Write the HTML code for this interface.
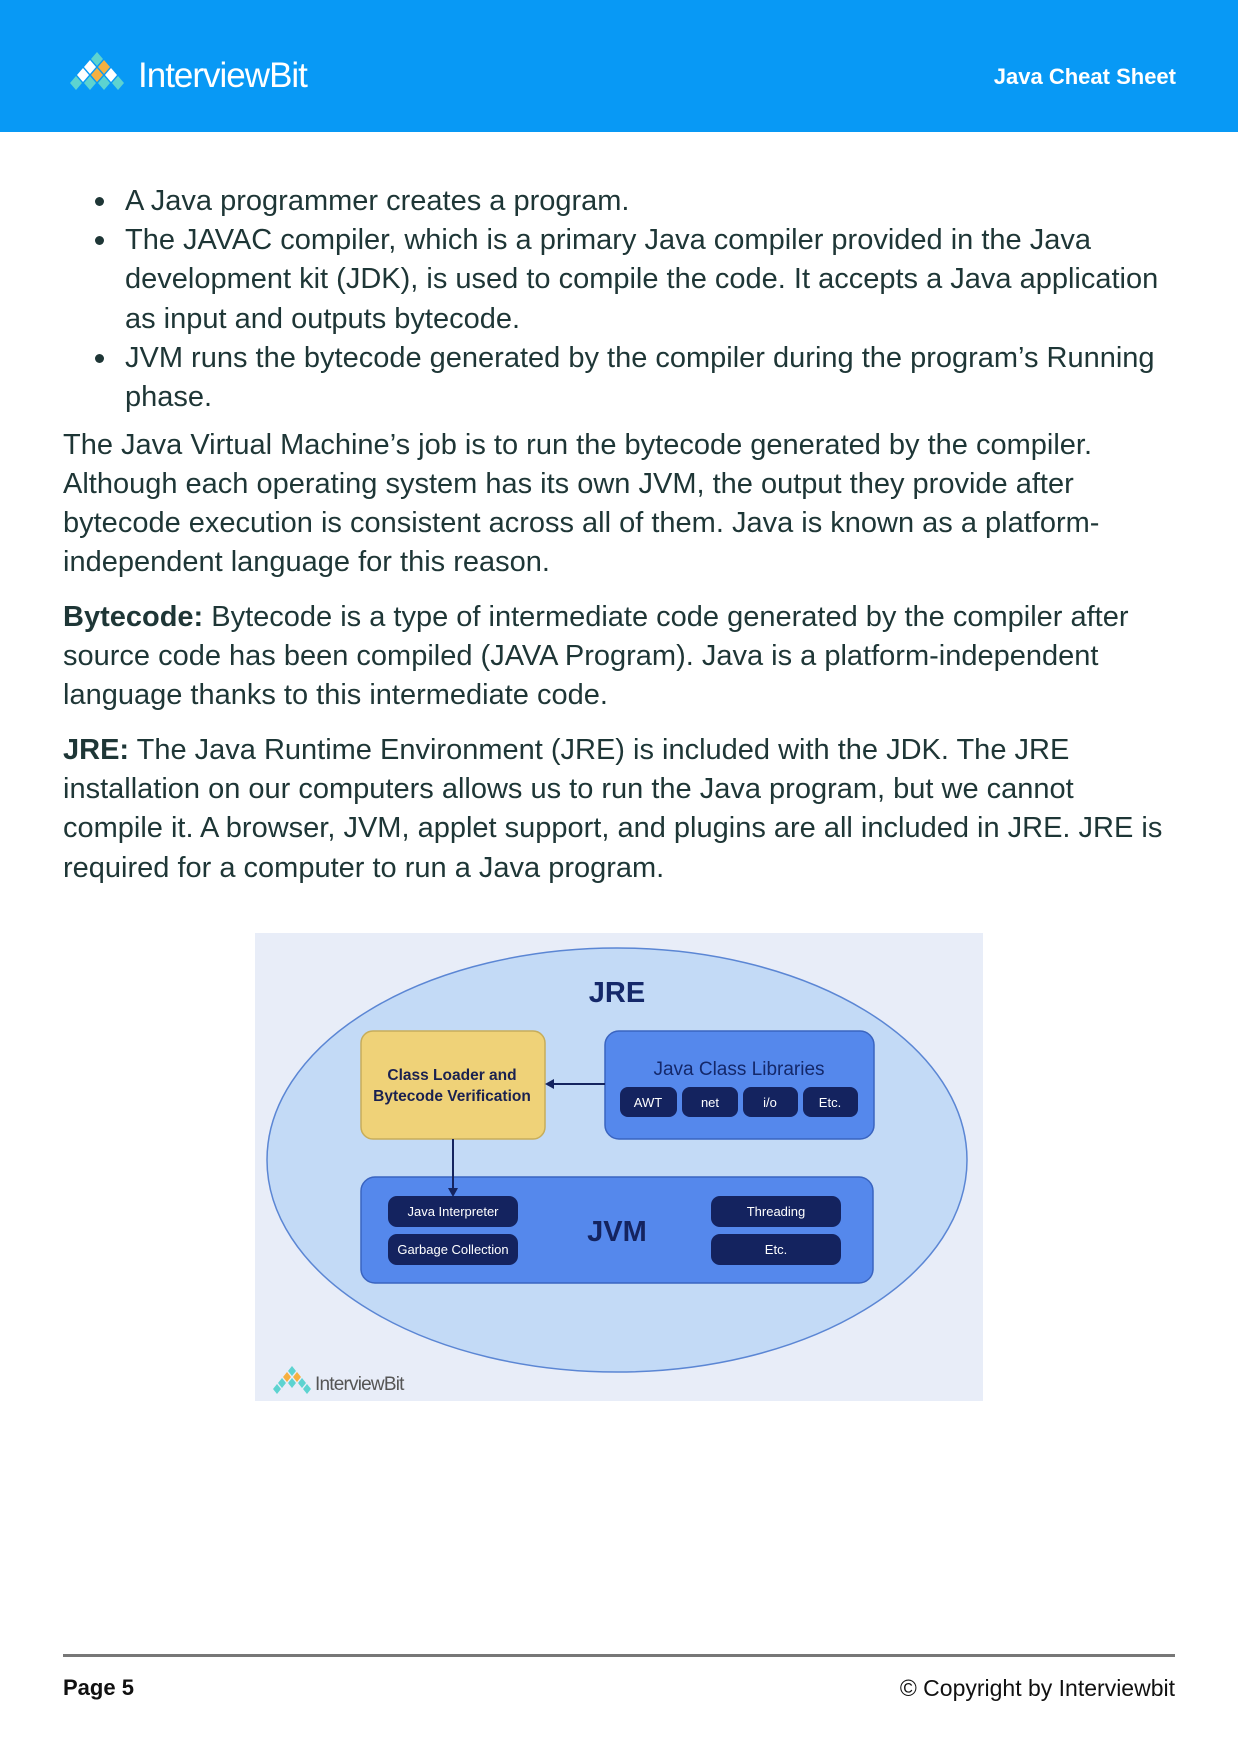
<!DOCTYPE html>
<html><head><meta charset="utf-8"><style>
html,body{margin:0;padding:0;}
body{width:1238px;height:1754px;position:relative;background:#fff;overflow:hidden;font-family:"Liberation Sans",sans-serif;color:#1e3636;}
.hdr{position:absolute;left:0;top:0;width:1238px;height:132px;background:#0899f5;}
.l{position:absolute;white-space:nowrap;font-size:29px;line-height:30px;}
.b{position:absolute;width:9px;height:9px;border-radius:50%;background:#1e3636;}
</style></head><body>
<div class="hdr">
 <svg style="position:absolute;left:64px;top:50px" width="70" height="42" viewBox="0 0 70 42">
  <g>
   <polygon points="33,2 39,9 33,16 27,9" fill="#5dd3d0"/>
   <polygon points="26,10 32,17 26,24 20,17" fill="#fff"/>
   <polygon points="40,10 46,17 40,24 34,17" fill="#f5b041"/>
   <polygon points="19,18 25,25 19,32 13,25" fill="#fff"/>
   <polygon points="33,18 39,25 33,32 27,25" fill="#f5b041"/>
   <polygon points="47,18 53,25 47,32 41,25" fill="#fff"/>
   <polygon points="12,26 18,33 12,40 6,33" fill="#5dd3d0"/>
   <polygon points="26,26 32,33 26,40 20,33" fill="#5dd3d0"/>
   <polygon points="40,26 46,33 40,40 34,33" fill="#5dd3d0"/>
   <polygon points="54,26 60,33 54,40 48,33" fill="#5dd3d0"/>
  </g>
 </svg>
 <div style="position:absolute;left:138px;top:56px;font-size:35px;color:#fff;letter-spacing:-1px;">Interview<span style="font-weight:normal">Bit</span></div>
 <div style="position:absolute;right:62px;top:64px;font-size:22px;color:#fff;font-weight:bold;">Java Cheat Sheet</div>
</div>

<div class="b" style="left:95px;top:197px"></div>
<div class="b" style="left:95px;top:236px"></div>
<div class="b" style="left:95px;top:354px"></div>
<div class="l" style="left:125px;top:186px">A Java programmer creates a program.</div>
<div class="l" style="left:125px;top:225px">The JAVAC compiler, which is a primary Java compiler provided in the Java</div>
<div class="l" style="left:125px;top:264px">development kit (JDK), is used to compile the code. It accepts a Java application</div>
<div class="l" style="left:125px;top:304px">as input and outputs bytecode.</div>
<div class="l" style="left:125px;top:343px">JVM runs the bytecode generated by the compiler during the program’s Running</div>
<div class="l" style="left:125px;top:382px">phase.</div>

<div class="l" style="left:63px;top:430px">The Java Virtual Machine’s job is to run the bytecode generated by the compiler.</div>
<div class="l" style="left:63px;top:469px">Although each operating system has its own JVM, the output they provide after</div>
<div class="l" style="left:63px;top:508px">bytecode execution is consistent across all of them. Java is known as a platform-</div>
<div class="l" style="left:63px;top:547px">independent language for this reason.</div>

<div class="l" style="left:63px;top:602px"><b>Bytecode:</b> Bytecode is a type of intermediate code generated by the compiler after</div>
<div class="l" style="left:63px;top:641px">source code has been compiled (JAVA Program). Java is a platform-independent</div>
<div class="l" style="left:63px;top:680px">language thanks to this intermediate code.</div>

<div class="l" style="left:63px;top:735px"><b>JRE:</b> The Java Runtime Environment (JRE) is included with the JDK. The JRE</div>
<div class="l" style="left:63px;top:774px">installation on our computers allows us to run the Java program, but we cannot</div>
<div class="l" style="left:63px;top:813px">compile it. A browser, JVM, applet support, and plugins are all included in JRE. JRE is</div>
<div class="l" style="left:63px;top:853px">required for a computer to run a Java program.</div>

<svg style="position:absolute;left:255px;top:933px" width="728" height="468" viewBox="255 933 728 468" font-family="Liberation Sans, sans-serif">
 <rect x="255" y="933" width="728" height="468" fill="#e8edf8"/>
 <ellipse cx="617" cy="1160" rx="350" ry="212" fill="#c3daf6" stroke="#5b86d4" stroke-width="1.5"/>
 <text x="617" y="1002" text-anchor="middle" font-size="29" font-weight="bold" fill="#15286a">JRE</text>
 <rect x="361" y="1031" width="184" height="108" rx="12" fill="#efd278" stroke="#c7ad5a" stroke-width="1.5"/>
 <text x="452" y="1080" text-anchor="middle" font-size="15.5" font-weight="bold" fill="#1a2150">Class Loader and</text>
 <text x="452" y="1101" text-anchor="middle" font-size="15.5" font-weight="bold" fill="#1a2150">Bytecode Verification</text>
 <rect x="605" y="1031" width="269" height="108" rx="14" fill="#5588ec" stroke="#3a64c0" stroke-width="1.5"/>
 <text x="739" y="1075" text-anchor="middle" font-size="19" fill="#14286a">Java Class Libraries</text>
 <g fill="#14235f">
  <rect x="620" y="1087" width="57" height="30" rx="8"/>
  <rect x="682" y="1087" width="56" height="30" rx="8"/>
  <rect x="743" y="1087" width="55" height="30" rx="8"/>
  <rect x="803" y="1087" width="55" height="30" rx="8"/>
 </g>
 <g fill="#fff" font-size="13" text-anchor="middle">
  <text x="648" y="1107">AWT</text><text x="710" y="1107">net</text><text x="770" y="1107">i/o</text><text x="830" y="1107">Etc.</text>
 </g>
 <line x1="605" y1="1084" x2="552" y2="1084" stroke="#14235f" stroke-width="2"/>
 <polygon points="545,1084 554,1079 554,1089" fill="#14235f"/>
 <rect x="361" y="1177" width="512" height="106" rx="14" fill="#5588ec" stroke="#3a64c0" stroke-width="1.5"/>
 <text x="617" y="1241" text-anchor="middle" font-size="29" font-weight="bold" fill="#14235f">JVM</text>
 <g fill="#14235f">
  <rect x="388" y="1196" width="130" height="31" rx="9"/>
  <rect x="388" y="1234" width="130" height="31" rx="9"/>
  <rect x="711" y="1196" width="130" height="31" rx="9"/>
  <rect x="711" y="1234" width="130" height="31" rx="9"/>
 </g>
 <g fill="#fff" font-size="13" text-anchor="middle">
  <text x="453" y="1216">Java Interpreter</text><text x="453" y="1254">Garbage Collection</text>
  <text x="776" y="1216">Threading</text><text x="776" y="1254">Etc.</text>
 </g>
 <line x1="453" y1="1139" x2="453" y2="1190" stroke="#14235f" stroke-width="2"/>
 <polygon points="453,1197 448,1188 458,1188" fill="#14235f"/>
 <g>
  <polygon points="292,1366 296,1371 292,1376 288,1371" fill="#5dd3d0"/>
  <polygon points="287,1372 291,1377 287,1382 283,1377" fill="#f5b041"/>
  <polygon points="297,1372 301,1377 297,1382 293,1377" fill="#f5b041"/>
  <polygon points="282,1378 286,1383 282,1388 278,1383" fill="#5dd3d0"/>
  <polygon points="292,1378 296,1383 292,1388 288,1383" fill="#5dd3d0"/>
  <polygon points="302,1378 306,1383 302,1388 298,1383" fill="#5dd3d0"/>
  <polygon points="277,1384 281,1389 277,1394 273,1389" fill="#5dd3d0"/>
  <polygon points="307,1384 311,1389 307,1394 303,1389" fill="#5dd3d0"/>
 </g>
 <text x="315" y="1390" font-size="19" fill="#555" letter-spacing="-0.8">InterviewBit</text>
</svg>

<div style="position:absolute;left:63px;top:1654px;width:1112px;height:3px;background:#777;"></div>
<div style="position:absolute;left:63px;top:1675px;font-size:22px;font-weight:bold;color:#111;">Page 5</div>
<div style="position:absolute;right:63px;top:1675px;font-size:23px;color:#111;">© Copyright by Interviewbit</div>
</body></html>
